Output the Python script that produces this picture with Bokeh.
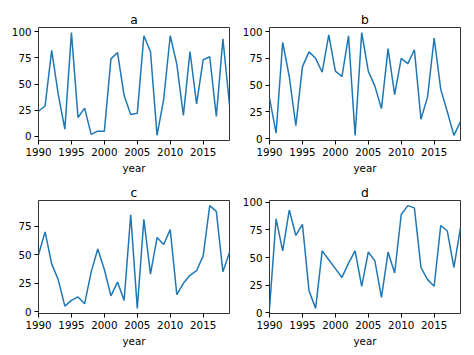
from bokeh.plotting import figure
from bokeh.layouts import column, row
from bokeh.models import Range1d, DataRange1d, SingleIntervalTicker
from bokeh.embed import file_html
from bokeh.resources import INLINE

years = list(range(1990, 2020))
a = [24, 29, 82, 40, 7, 99, 18, 27, 2, 5, 5, 74, 80, 39, 21, 22, 96, 81, 1, 35,
     96, 69, 20, 81, 31, 73, 76, 19, 93, 30]
b = [38, 5, 90, 58, 12, 67, 81, 75, 62, 97, 63, 58, 96, 3, 99, 63, 49, 28, 84, 41,
     75, 70, 83, 18, 39, 94, 46, 25, 3, 16]
c = [50, 70, 42, 28, 5, 10, 13, 7, 35, 55, 37, 14, 26, 10, 85, 3, 81, 33, 65, 59,
     72, 15, 25, 32, 36, 49, 93, 88, 35, 52]
d = [4, 85, 56, 93, 70, 80, 20, 4, 56, 48, 40, 32, 45, 56, 24, 55, 47, 14, 55, 36,
     89, 97, 95, 41, 30, 24, 79, 74, 41, 77]
titles = ["a", "b", "c", "d"]
series = [a, b, c, d]

FONT = "DejaVu Sans"

def make(title, vals, width, height, left, right, top, bottom):
    p = figure(width=width, height=height, output_backend="svg", toolbar_location=None,
               x_range=Range1d(years[0], years[-1]), y_range=DataRange1d(range_padding=0.1),
               min_border_left=left, min_border_right=right,
               min_border_top=top, min_border_bottom=bottom)
    p.title.text = title
    p.title.align = "center"
    p.title.text_font = FONT
    p.title.text_font_size = "12.3px"
    p.title.text_font_style = "normal"
    p.title.text_color = "black"
    p.title.standoff = 2
    p.line(years, vals, line_color="#1f77b4", line_width=1.5)
    p.xgrid.visible = False
    p.ygrid.visible = False
    p.outline_line_color = "black"
    p.outline_line_width = 0.8
    p.outline_line_alpha = 1
    p.xaxis.ticker = SingleIntervalTicker(interval=5, num_minor_ticks=0)
    p.yaxis.ticker = SingleIntervalTicker(interval=25, num_minor_ticks=0)
    p.xaxis.axis_label = "year"
    for ax in (p.xaxis[0], p.yaxis[0]):
        ax.axis_line_color = None
        ax.major_tick_in = 0
        ax.major_tick_out = 4
        ax.major_tick_line_color = "black"
        ax.minor_tick_line_color = None
        ax.major_label_text_font = FONT
        ax.major_label_text_font_size = "10.3px"
        ax.major_label_text_color = "black"
        ax.major_label_standoff = 3
        ax.axis_label_text_font = FONT
        ax.axis_label_text_font_size = "10.3px"
        ax.axis_label_text_font_style = "normal"
        ax.axis_label_text_color = "black"
        ax.axis_label_standoff = 3
    return p

p1 = make(titles[0], series[0], 237, 180, 38, 8, 27, 40)
p2 = make(titles[1], series[1], 237, 180, 32, 14, 27, 40)
p3 = make(titles[2], series[2], 237, 175, 38, 8, 20, 42)
p4 = make(titles[3], series[3], 237, 175, 32, 14, 20, 42)

layout = column(row(p1, p2), row(p3, p4))
open("out.html", "w").write(file_html(layout, INLINE))
